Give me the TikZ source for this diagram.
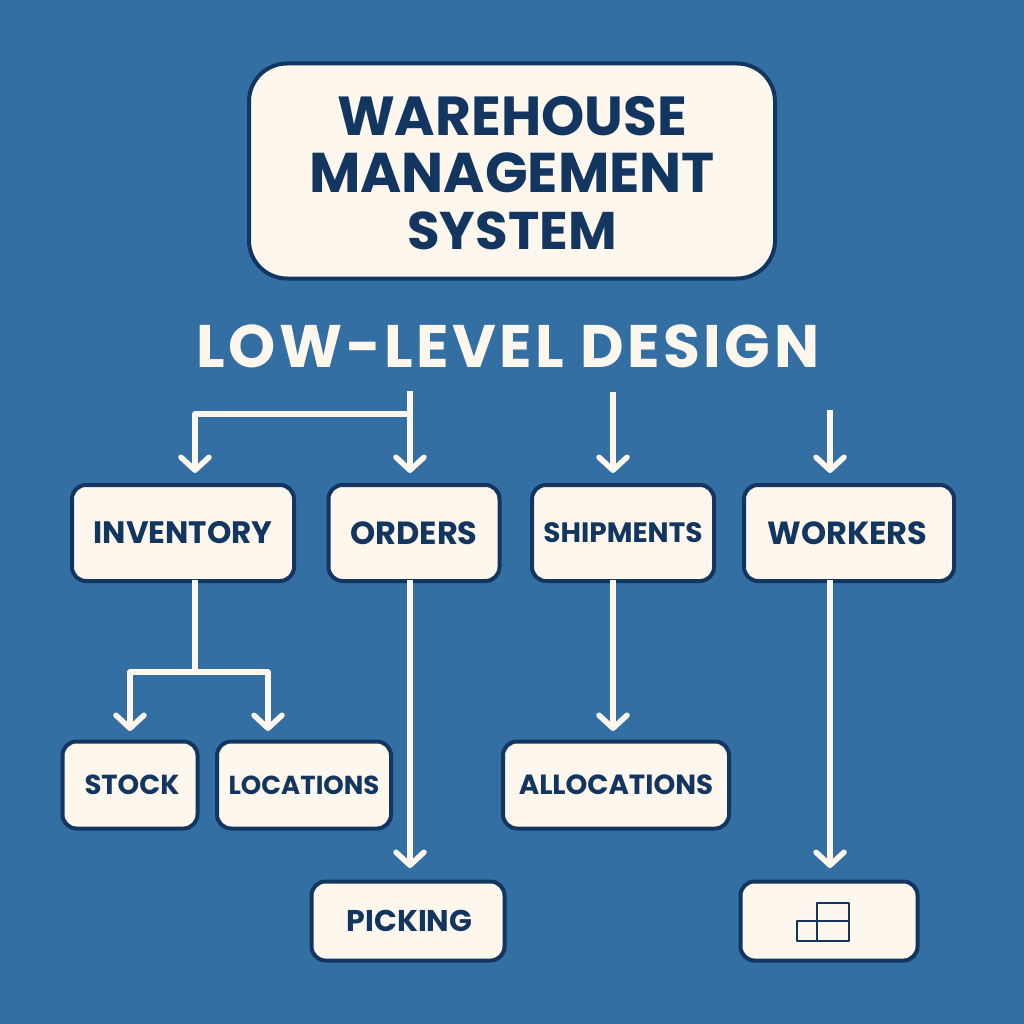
\documentclass[tikz,border=0pt]{standalone}
\usepackage{fontspec}
\setmainfont{Poppins}
\usetikzlibrary{arrows.meta}
\definecolor{bgblue}{HTML}{346FA3}
\definecolor{navy}{HTML}{12365F}
\definecolor{cream}{HTML}{FDF7EE}
\tikzset{
 x=1pt,y=-1pt,
 box/.style={draw=navy,fill=cream,line width=4pt,rounded corners=14pt,inner sep=0pt,text=navy,font=\bfseries\fontsize{26}{26}\selectfont},
 lbl/.style={text=navy,inner sep=0pt,font=\bfseries},
 wire/.style={draw=cream,line width=5.5pt,line join=round},
 arr/.style={wire,-{Straight Barb[length=13pt,width=28pt,line width=5.5pt,round]}},
}
\begin{document}
\begin{tikzpicture}
\useasboundingbox (0,0) rectangle (1024,1024);
\fill[bgblue] (0,0) rectangle (1024,1024);
\node[box,minimum width=526pt,minimum height=215pt,rounded corners=38pt,line width=4pt] (title) at (512,171) {};
\node[lbl,align=center,font=\bfseries\fontsize{55}{57}\selectfont] (titletext) at (512,173) {WAREHOUSE\\\fontsize{56}{57}\selectfont MANAGEMENT\\\fontsize{53}{57}\selectfont SYSTEM};
\node[text=cream,font=\bfseries\fontsize{60}{60}\selectfont\addfontfeatures{LetterSpace=5.8}] (sub) at (508,346) {LOW-LEVEL DESIGN};
\node[box,minimum width=222pt,minimum height=96pt] (inv) at (183,533) {\fontsize{31}{31}\selectfont INVENTORY};
\node[box,minimum width=171pt,minimum height=96pt] (ord) at (414,533) {\fontsize{32}{32}\selectfont ORDERS};
\node[box,minimum width=182pt,minimum height=96pt] (shp) at (623,533) {\fontsize{28}{28}\selectfont SHIPMENTS};
\node[box,minimum width=210pt,minimum height=96pt] (wrk) at (849,533) {\fontsize{32}{32}\selectfont \hspace*{-3pt}WORKERS};
\node[box,minimum width=135pt,minimum height=87pt] (stk) at (130,785) {\fontsize{27.5}{27.5}\selectfont \hspace*{4pt}\raisebox{-1pt}{STOCK}};
\node[box,minimum width=174pt,minimum height=87pt] (loc) at (304,785) {\fontsize{26}{26}\selectfont \raisebox{-1pt}{LOCATIONS}};
\node[box,minimum width=226pt,minimum height=87pt] (alc) at (616,785) {\fontsize{27.7}{27.7}\selectfont \raisebox{-1pt}{ALLOCATIONS}};
\node[box,minimum width=193pt,minimum height=79pt] (pck) at (408,921) {\fontsize{30}{30}\selectfont \hspace*{3pt}\raisebox{-1.5pt}{PICKING}};
\node[box,minimum width=177pt,minimum height=79pt] (blk) at (829,921) {};
\coordinate (s1) at (410,391);
\coordinate (s2) at (613,392);
\coordinate (s3) at (830,410);
\coordinate (j1) at (195,414);
\coordinate (j2) at (410,414);
\coordinate (t1) at (195,473);
\coordinate (t2) at (410,473);
\coordinate (t3) at (613,473);
\coordinate (t4) at (830,473);
\coordinate (b0) at (195,580);
\coordinate (b1) at (195,672);
\coordinate (bl) at (130,672);
\coordinate (br) at (268,672);
\coordinate (tl) at (130,731);
\coordinate (tr) at (268,731);
\coordinate (o0) at (410,580);
\coordinate (o1) at (410,868);
\coordinate (sh0) at (613,580);
\coordinate (sh1) at (613,731);
\coordinate (w0) at (830,580);
\coordinate (w1) at (830,868);
\draw[arr] (s1) -- (t2);
\draw[arr] (j2) -- (j1) -- (t1);
\draw[arr] (s2) -- (t3);
\draw[arr] (s3) -- (t4);
\draw[wire] (b0) -- (b1);
\draw[arr] (b1) -- (bl) -- (tl);
\draw[arr] (b1) -- (br) -- (tr);
\draw[arr] (o0) -- (o1);
\draw[arr] (sh0) -- (sh1);
\draw[arr] (w0) -- (w1);
\draw[navy,line width=2pt,line join=round] (797,921) rectangle (817,941) (817,921) rectangle (849,941) (817,903) rectangle (849,921);
\end{tikzpicture}
\end{document}
